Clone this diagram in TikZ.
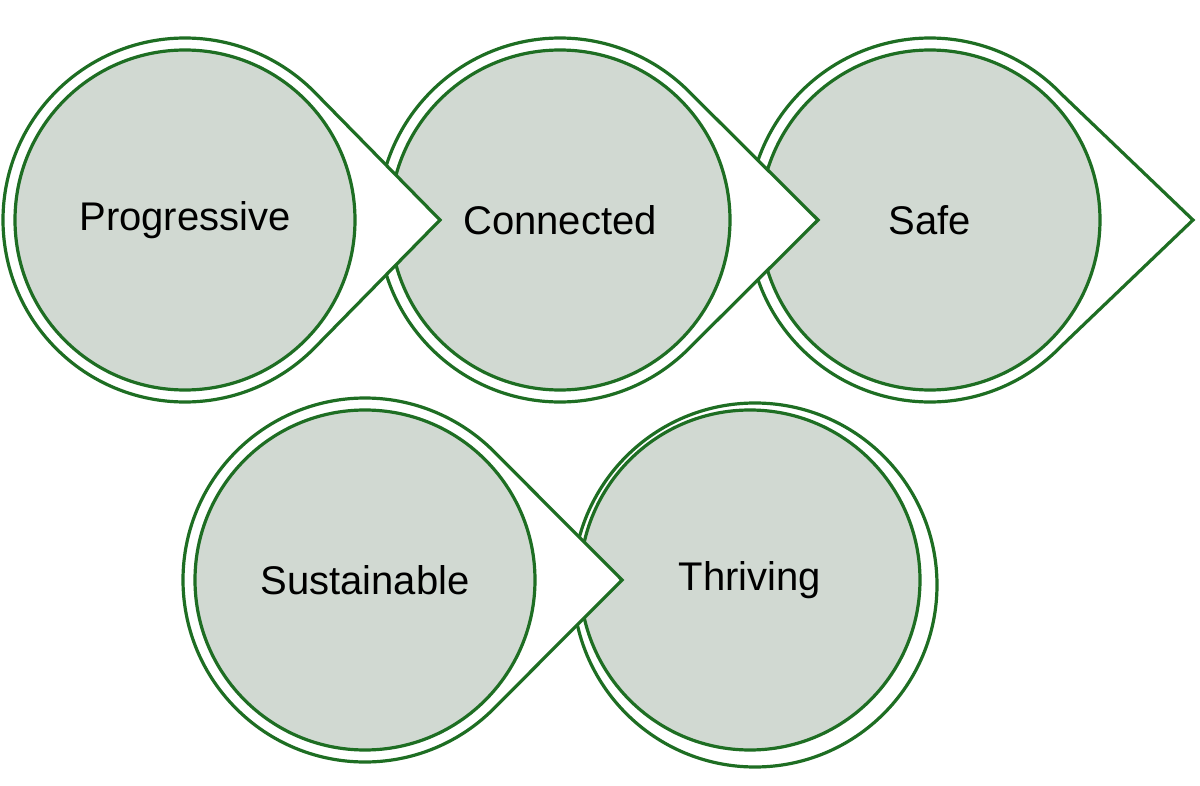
\documentclass[tikz,border=0pt]{standalone}
\usepackage{fontspec}
\setmainfont{Liberation Sans}
\usetikzlibrary{positioning, calc}
\definecolor{leaf}{RGB}{30,110,35}
\definecolor{sage}{RGB}{209,217,210}
\newcommand{\petal}[4]{%
  \filldraw[shell] ($(#1)+(44:182)$) arc (44:316:182) -- ($(#1)+(#4,0)$) -- cycle;
  \node[core] (#2) at (#1) {#3};
}
\begin{document}
\begin{tikzpicture}[x=0.5pt,y=-0.5pt,
  shell/.style={draw=leaf,line width=1.6pt,fill=white,line join=miter},
  core/.style={circle,draw=leaf,line width=1.6pt,fill=sage,minimum size=170pt,inner sep=0pt,font=\fontsize{20}{24}\selectfont}]
\useasboundingbox (0,0) rectangle (1200,786);
% top row, drawn right to left so each tip lies on top
\petal{930,220}{safe}{Safe}{263}
\petal{560,220}{connected}{Connected}{258}
\petal{185,220}{progressive}{Progressive}{255}
% bottom row
\filldraw[shell] (755,585) circle (182);
\node[core] (thriving) at (750,580) {Thriving};
\petal{365,580}{sustainable}{Sustainable}{257}
\end{tikzpicture}
\end{document}
